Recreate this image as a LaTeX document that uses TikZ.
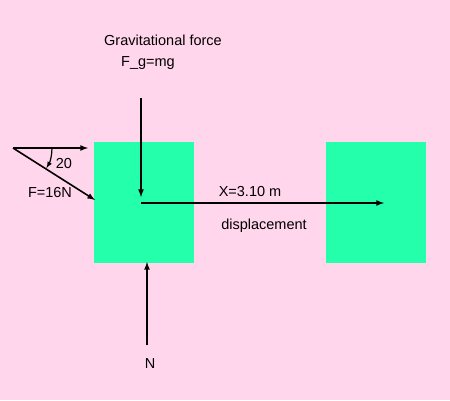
\documentclass[tikz,border=0pt]{standalone}
\usepackage{fontspec}
\setmainfont{Liberation Sans}
\usepackage{tikz}
\usetikzlibrary{arrows}
\usetikzlibrary{positioning}
\definecolor{bgpink}{RGB}{255,214,236}
\definecolor{blockgreen}{RGB}{36,255,172}
\pgfdeclarelayer{nodelayer}
\pgfdeclarelayer{edgelayer}
\pgfsetlayers{main,edgelayer,nodelayer}
\tikzstyle{none}=[inner sep=0pt]
\tikzstyle{lbl}=[inner sep=0pt, font=\fontsize{14.5}{17}\selectfont]
\tikzset{block/.style={fill=blockgreen, draw=none, minimum width=100pt, minimum height=121pt, inner sep=0pt}}
\tikzset{force/.style={line width=1.6pt, -latex}}

\begin{document}
\begin{tikzpicture}[x=1pt, y=-1pt]
        \fill [bgpink] (0, 0) rectangle (450, 400);
        \useasboundingbox (0, 0) rectangle (450, 400);
        \begin{pgfonlayer}{nodelayer}
            \node [style=none] (0) at (13, 148) {};
            \node [style=none] (1) at (88, 148) {};
            \node [style=none] (2) at (95, 200) {};
            \node [style=none] (3) at (141, 98) {};
            \node [style=none] (4) at (141, 197) {};
            \node [style=none] (5) at (141, 203) {};
            \node [style=none] (6) at (384, 203) {};
            \node [style=none] (7) at (147, 345) {};
            \node [style=none] (8) at (147, 262) {};
            \node [style=lbl] (9) at (163, 40) {Gravitational force};
            \node [style=lbl] (10) at (148, 63) {F\_g=mg};
            \node [style=lbl] (11) at (64, 164) {20};
            \node [style=lbl] (12) at (50, 193) {F=16N};
            \node [style=lbl] (13) at (250, 192) {X=3.10 m};
            \node [style=lbl] (14) at (264, 226) {displacement};
            \node [style=lbl] (15) at (150, 364) {N};
        \end{pgfonlayer}
        \node [block] (16) at (144, 202.5) {};
        \node [block] (17) at (375.5, 202.5) {};
        \begin{pgfonlayer}{edgelayer}
            \draw [force] (0.center) to (1.center);
            \draw [force] (0.center) to (2.center);
            \draw [force] (3.center) to (4.center);
            \draw [force] (5.center) to (6.center);
            \draw [force] (7.center) to (8.center);
            \draw [line width=1.2pt, -latex] (0.center) ++(0:39) arc (0:31:39);
        \end{pgfonlayer}
    \end{tikzpicture}
\end{document}
